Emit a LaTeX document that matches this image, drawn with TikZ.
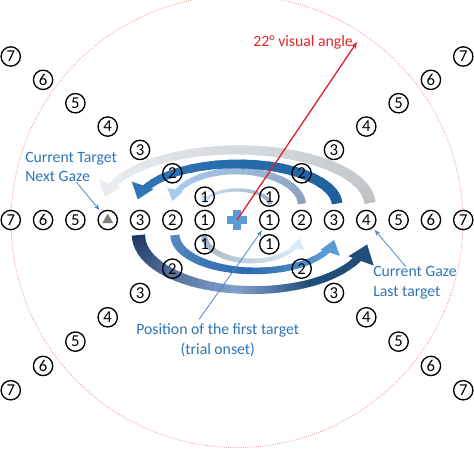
\documentclass[tikz,border=0pt]{standalone}
\usepackage{fontspec}
\setmainfont{Carlito}
\usetikzlibrary{arrows.meta,shapes.geometric}

\definecolor{txtblue}{HTML}{2E75B6}
\definecolor{ptrblue}{HTML}{4A86C8}
\definecolor{crossblue}{HTML}{5B9BD5}
\definecolor{anglered}{HTML}{E32228}
\definecolor{ringpink}{HTML}{F09090}
\definecolor{trigray}{HTML}{7F7F7F}
\definecolor{top1s}{HTML}{9AAEC4}
\definecolor{top1e}{HTML}{C9DCEF}
\definecolor{top2s}{HTML}{8AA2BF}
\definecolor{top2e}{HTML}{A9CBEB}
\definecolor{top3s}{HTML}{1F5E9C}
\definecolor{top3e}{HTML}{2E75B6}
\definecolor{top4s}{HTML}{BEC3C8}
\definecolor{top4e}{HTML}{E8ECF0}
\definecolor{bot1s}{HTML}{A1B0C1}
\definecolor{bot1e}{HTML}{DCEAF6}
\definecolor{bot2s}{HTML}{5A88C2}
\definecolor{bot2m}{HTML}{2E6DB0}
\definecolor{bot2e}{HTML}{5B9BD5}
\definecolor{bot3s}{HTML}{1F3864}
\definecolor{bot3m}{HTML}{7F9DCB}
\definecolor{bot3e}{HTML}{1F4E79}

% band along an elliptic arc: centre, x radius, y radius, from, to, colour from, colour to, width from, width to
\newcommand{\gazearc}[9]{%
  \foreach \seg in {0,...,19}{%
    \pgfmathsetmacro{\angA}{#4+(#5-#4)*\seg/20}%
    \pgfmathsetmacro{\angB}{#4+(#5-#4)*(\seg+1.25)/20}%
    \pgfmathtruncatemacro{\segmix}{100-100*\seg/19}%
    \pgfmathsetmacro{\segw}{#8+(#9-#8)*\seg/19}%
    \draw[line width=\segw pt, draw={#6!\segmix!#7}] ([shift={#1}]\angA:#2 and #3) arc[start angle=\angA, end angle=\angB, x radius=#2, y radius=#3];
  }}
% arrow head at the end of a band
\newcommand{\gazetip}[9]{%
  \draw[line width=#7pt, draw=#6, -{Triangle[length=#8pt, width=#9pt, line width=0.01pt]}] ([shift={#1}]#4:#2 and #3) arc[start angle=#4, end angle=#5, x radius=#2, y radius=#3];}

\begin{document}
\begin{tikzpicture}[x=24pt, y=24pt, font=\fontsize{11.8}{14.8}\selectfont, line join=round, >=stealth,
	tgt/.style={circle, draw, line width=1pt, minimum size=14.5pt, inner sep=0pt, font=\fontsize{12.5}{13}\selectfont},
	lbl/.style={text=txtblue, inner sep=0pt},
	pointer/.style={draw=ptrblue, line width=0.6pt, -{Stealth[length=4.5pt, width=3.5pt]}, shorten >=2pt}]
	\useasboundingbox (-7.406,-7.25) rectangle (7.406,6.875);
	% 22 degree ring
	\draw[ringpink, densely dotted, line width=0.6pt] (0,-0.05) circle (7.06);
	% arcs over the top, right to left
	\gazearc{(0,0.47)}{1.03}{0.47}{2}{150}{top1s}{top1e}{3}{2}
	\gazetip{(0,0.47)}{1.03}{0.47}{148}{174}{top1e}{2}{5.5}{8}
	\gazearc{(0,0.47)}{2.03}{1.06}{2}{155}{top2s}{top2e}{6}{4}
	\gazetip{(0,0.47)}{2.03}{1.06}{152}{173}{top2e}{4}{8.5}{12}
	\gazearc{(0,0.47)}{3.13}{1.28}{2}{154}{top3s}{top3e}{8}{5.5}
	\gazetip{(0,0.47)}{3.13}{1.28}{150}{172}{top3e}{5.5}{11}{17}
	\gazearc{(0,0.47)}{4.16}{1.72}{2}{158}{top4s}{top4e}{8.5}{5.5}
	\gazetip{(0,0.47)}{4.16}{1.72}{154}{172}{top4e}{5.5}{11}{17}
	% arcs under the bottom, left to right
	\gazearc{(0.47,-0.47)}{1.5}{0.81}{180}{332}{bot1s}{bot1e}{4.5}{3}
	\gazetip{(0.47,-0.47)}{1.5}{0.81}{328}{352}{bot1e}{3}{7.5}{11}
	\gazearc{(0.56,-0.47)}{2.5}{1.12}{180}{265}{bot2s}{bot2m}{7}{5}
	\gazearc{(0.56,-0.47)}{2.5}{1.12}{265}{330}{bot2m}{bot2e}{5}{4.5}
	\gazetip{(0.56,-0.47)}{2.5}{1.12}{326}{352}{bot2e}{4.5}{10}{15}
	\gazearc{(0.52,-0.47)}{3.6}{1.72}{180}{262}{bot3s}{bot3m}{10}{6}
	\gazearc{(0.52,-0.47)}{3.6}{1.72}{262}{300}{bot3m}{bot3e}{6}{5.5}
	\gazearc{(0.52,-0.47)}{3.6}{1.72}{300}{334}{bot3e}{bot3e}{5.5}{5.5}
	\gazetip{(0.52,-0.47)}{3.6}{1.72}{328}{350}{bot3e}{5.5}{13}{20}
	% fixation cross and visual angle
	\fill[crossblue] (-0.3,-0.11) rectangle (0.3,0.11);
	\fill[crossblue] (-0.11,-0.3) rectangle (0.11,0.3);
	\coordinate (fix) at (0,0);
	\coordinate (edge) at (3.75,5.56);
	\draw[anglered, line width=1pt, -{Stealth[length=5pt, width=4pt]}] (fix) -- (edge);
	\node[lbl, text=anglered, anchor=east, inner sep=3pt] (vislbl) at (edge) {22° visual angle};
	% target positions
	\foreach \k in {1,...,7}{
		\node[tgt] (r\k) at (1.01*\k,0) {\k};
		\node[tgt] (ur\k) at (1.01*\k,0.73*\k) {\k};
		\node[tgt] (dr\k) at (1.01*\k,-0.76*\k) {\k};
		\node[tgt] (ul\k) at (-1.01*\k,0.73*\k) {\k};
		\node[tgt] (dl\k) at (-1.01*\k,-0.76*\k) {\k};
	}
	\foreach \k in {1,2,3,5,6,7}
		\node[tgt] (l\k) at (-1.01*\k,0) {\k};
	\node[tgt] (l4) at (-4.04,0) {};
	\node[regular polygon, regular polygon sides=3, fill=trigray, minimum size=9.5pt, inner sep=0pt] (tri) at (l4) {};
	% labels
	\node[lbl, align=left, anchor=west] (curtgt) at (-6.625,1.66) {Current Target\\Next Gaze};
	\node[lbl, align=left, anchor=west] (curgaze) at (4.25,-1.97) {Current Gaze\\Last target};
	\node[lbl, align=center] (first) at (-0.6,-3.75) {Position of the first target\\(trial onset)};
	\draw[pointer] ([xshift=4pt]curtgt.south) -- (l4);
	\draw[pointer] ([xshift=-7pt]curgaze.north) -- (r4);
	\draw[pointer] ([xshift=-14pt, yshift=3pt]first.north) -- (r1);
\end{tikzpicture}
\end{document}
